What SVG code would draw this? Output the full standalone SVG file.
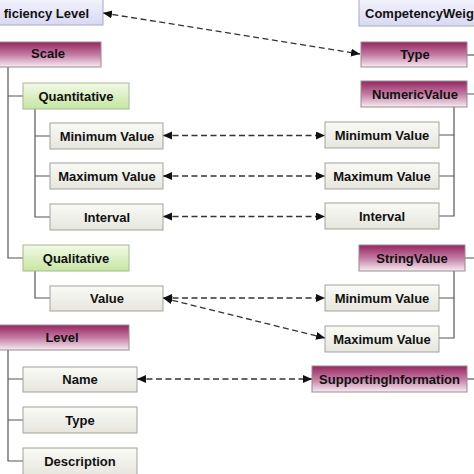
<svg xmlns="http://www.w3.org/2000/svg" width="474" height="474" viewBox="0 0 474 474">
<style>
.box{stroke-width:1}
.mag{fill:url(#gMag);stroke:#9a8a92}
.grn{fill:url(#gGrn);stroke:#a6b896}
.gry{fill:url(#gGry);stroke:#a2a29c}
.lav{fill:url(#gLav);stroke:#a8a8c8}
text{font-family:"Liberation Sans",Arial,sans-serif;font-weight:bold;font-size:13px;fill:#111;text-anchor:middle}
.tree{fill:none;stroke:#555;stroke-width:1.2}
.dash{fill:none;stroke:#333;stroke-width:1.3;stroke-dasharray:6 3.5;marker-start:url(#ah);marker-end:url(#ah)}
</style>
<defs>
<linearGradient id="gMag" x1="0" y1="0" x2="0" y2="1">
<stop offset="0" stop-color="#962660"/>
<stop offset="0.5" stop-color="#c27aa2"/>
<stop offset="1" stop-color="#f6edf2"/>
</linearGradient>
<linearGradient id="gGrn" x1="0" y1="0" x2="0" y2="1">
<stop offset="0" stop-color="#f2f9e6"/>
<stop offset="1" stop-color="#c6e6a2"/>
</linearGradient>
<linearGradient id="gGry" x1="0" y1="0" x2="0" y2="1">
<stop offset="0" stop-color="#fafaf6"/>
<stop offset="1" stop-color="#e6e6de"/>
</linearGradient>
<linearGradient id="gLav" x1="0" y1="0" x2="0" y2="1">
<stop offset="0" stop-color="#f4f4fc"/>
<stop offset="1" stop-color="#d8d8f2"/>
</linearGradient>
<marker id="ah" markerUnits="userSpaceOnUse" markerWidth="10" markerHeight="9" refX="9" refY="4" orient="auto-start-reverse">
<path d="M0,0 L9,4 L0,8 z" fill="#111"/>
</marker>
</defs>

<g id="connectors">
<path class="tree" d="M8 67 V258 H23 M8 96 H23"/>
<path class="tree" d="M35 109 V217 H50 M35 136 H50 M35 176 H50"/>
<path class="tree" d="M35 271 V298 H50"/>
<path class="tree" d="M8 350 V461 H23 M8 379 H23 M8 420 H23"/>
<path class="tree" d="M467 55 H474"/>
<path class="tree" d="M467 94 H474 M454 107 V216 H439 M439 135 H454 M439 176 H454"/>
<path class="tree" d="M465 258 H474 M454 271 V338 H439 M439 298 H454"/>
<path class="tree" d="M467 379 H474"/>
<line class="dash" x1="103" y1="13" x2="360" y2="54"/>
<line class="dash" x1="163" y1="135.5" x2="325" y2="135.5"/>
<line class="dash" x1="163" y1="176" x2="325" y2="176"/>
<line class="dash" x1="163" y1="216.5" x2="325" y2="216.5"/>
<line class="dash" x1="163" y1="298" x2="325" y2="298"/>
<line class="dash" x1="163" y1="298" x2="325" y2="338"/>
<line class="dash" x1="137" y1="379" x2="312" y2="379"/>
</g>

<g id="proficiency-level"><rect class="box lav" x="-2" y="-2" width="105" height="27"/><text x="89" y="18" style="text-anchor:end">ficiency Level</text></g>
<g id="competency-weight"><rect class="box lav" x="359" y="-2" width="117" height="28"/><text x="365" y="18" style="text-anchor:start">CompetencyWeig</text></g>

<g id="scale"><rect class="box mag" x="-1" y="42" width="102" height="25"/><text x="48" y="58">Scale</text></g>
<g id="quantitative"><rect class="box grn" x="23" y="83" width="106" height="26"/><text x="76" y="100.5">Quantitative</text></g>
<g id="min-left"><rect class="box gry" x="50" y="123" width="113" height="26"/><text x="107" y="140.5">Minimum Value</text></g>
<g id="max-left"><rect class="box gry" x="50" y="163" width="113" height="26"/><text x="107" y="180.5">Maximum Value</text></g>
<g id="interval-left"><rect class="box gry" x="50" y="204" width="113" height="26"/><text x="107" y="221.5">Interval</text></g>
<g id="qualitative"><rect class="box grn" x="23" y="245" width="106" height="26"/><text x="76" y="262.5">Qualitative</text></g>
<g id="value-left"><rect class="box gry" x="50" y="286" width="113" height="25"/><text x="107" y="303">Value</text></g>

<g id="level"><rect class="box mag" x="-1" y="325" width="130" height="25"/><text x="62" y="342">Level</text></g>
<g id="name"><rect class="box gry" x="23" y="367" width="114" height="25"/><text x="80" y="384">Name</text></g>
<g id="type-left"><rect class="box gry" x="23" y="407" width="114" height="26"/><text x="80" y="424.5">Type</text></g>
<g id="description"><rect class="box gry" x="23" y="448" width="114" height="28"/><text x="80" y="465.5">Description</text></g>

<g id="type-right"><rect class="box mag" x="361" y="42" width="106" height="25"/><text x="415" y="59">Type</text></g>
<g id="numeric-value"><rect class="box mag" x="361" y="81" width="106" height="26"/><text x="415" y="98.5">NumericValue</text></g>
<g id="min-right"><rect class="box gry" x="325" y="122" width="114" height="26"/><text x="382" y="139.5">Minimum Value</text></g>
<g id="max-right"><rect class="box gry" x="325" y="163" width="114" height="26"/><text x="382" y="180.5">Maximum Value</text></g>
<g id="interval-right"><rect class="box gry" x="325" y="203" width="114" height="26"/><text x="382" y="220.5">Interval</text></g>
<g id="string-value"><rect class="box mag" x="359" y="245" width="106" height="26"/><text x="412" y="262.5">StringValue</text></g>
<g id="min-right-str"><rect class="box gry" x="325" y="285" width="114" height="26"/><text x="382" y="302.5">Minimum Value</text></g>
<g id="max-right-str"><rect class="box gry" x="325" y="326" width="114" height="26"/><text x="382" y="343.5">Maximum Value</text></g>
<g id="supporting-information"><rect class="box mag" x="312" y="366" width="155" height="26"/><text x="389.5" y="383.5">SupportingInformation</text></g>
</svg>
